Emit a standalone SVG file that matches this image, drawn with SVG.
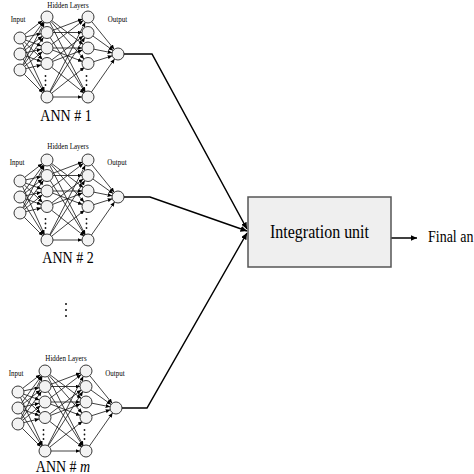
<svg xmlns="http://www.w3.org/2000/svg" xmlns:xlink="http://www.w3.org/1999/xlink" width="474" height="474" viewBox="0 0 474 474">
<style>
.e{stroke:#111;stroke-width:0.8;fill:none;marker-end:url(#ah)}
.n{fill:#f3f3f3;stroke:#222;stroke-width:0.9}
.d{fill:#111}
.c{stroke:#000;stroke-width:1.5;fill:none;marker-end:url(#ab)}
text{font-family:"Liberation Serif","Times New Roman",serif;fill:#000}
.s{font-size:7px;text-anchor:middle}
.l{font-size:14px;text-anchor:middle}
</style>
<defs>
<marker id="ah" markerUnits="userSpaceOnUse" markerWidth="5" markerHeight="4" refX="4.5" refY="2" orient="auto"><path d="M0,0 L4.5,2 L0,4 z" fill="#000"/></marker>
<marker id="ab" markerUnits="userSpaceOnUse" markerWidth="7" markerHeight="6" refX="6.5" refY="3" orient="auto"><path d="M0,0 L6.5,3 L0,6 z" fill="#000"/></marker>
<g id="net">
<path class="e" d="M24.7,17.3L42.3,3.7"/><path class="e" d="M25.9,19.8L41.1,16.7"/><path class="e" d="M25.6,23.1L41.4,28.9"/><path class="e" d="M24.4,25.1L42.6,42.4"/><path class="e" d="M22.5,26.5L44.5,74.5"/>
<path class="e" d="M23.5,32.2L43.5,4.8"/><path class="e" d="M24.7,33.3L42.3,19.2"/><path class="e" d="M25.9,35.7L41.1,32.3"/><path class="e" d="M25.7,39L41.3,44.5"/><path class="e" d="M23.2,42.1L43.8,74.9"/>
<path class="e" d="M22.7,47.7L44.3,5.3"/><path class="e" d="M23.5,48.1L43.5,20.4"/><path class="e" d="M24.7,49.2L42.4,34.8"/><path class="e" d="M25.8,51.6L41.2,47.9"/><path class="e" d="M24.2,57.2L42.8,75.8"/>
<path class="e" d="M51.8,3.6L83.2,27.4"/><path class="e" d="M51,4.5L84,42"/><path class="e" d="M49.7,5.3L85.3,74.7"/>
<path class="e" d="M52.6,13.4L82.4,2.1"/><path class="e" d="M53,15.5L82,15.5"/><path class="e" d="M50.2,20.6L84.8,74.9"/>
<path class="e" d="M51.8,27.4L83.2,3.6"/><path class="e" d="M53,31L82,31"/><path class="e" d="M52.6,33.1L82.4,44.4"/>
<path class="e" d="M51.8,42.9L83.2,19.1"/><path class="e" d="M52.6,44.4L82.4,33.1"/><path class="e" d="M51.7,50.3L84.4,76.2"/>
<path class="e" d="M49.7,74.7L85.3,5.3"/><path class="e" d="M50.2,74.9L84.8,20.6"/><path class="e" d="M51.7,76.2L84.4,50.3"/><path class="e" d="M53,80L82,80"/>
<path class="e" d="M91.8,4.7L114.2,32.3"/><path class="e" d="M92.9,19L113.1,33.5"/><path class="e" d="M93.9,32.2L112.1,35.8"/><path class="e" d="M93.7,44.7L112.3,38.8"/><path class="e" d="M91.4,75.1L114.6,41.9"/>
<circle class="n" cx="20" cy="21" r="6"/><circle class="n" cx="20" cy="37" r="6"/><circle class="n" cx="20" cy="53" r="6"/>
<circle class="n" cx="47" cy="0" r="6"/><circle class="n" cx="47" cy="15.5" r="6"/><circle class="n" cx="47" cy="31" r="6"/><circle class="n" cx="47" cy="46.5" r="6"/><circle class="n" cx="47" cy="80" r="6"/>
<circle class="n" cx="88" cy="0" r="6"/><circle class="n" cx="88" cy="15.5" r="6"/><circle class="n" cx="88" cy="31" r="6"/><circle class="n" cx="88" cy="46.5" r="6"/><circle class="n" cx="88" cy="80" r="6"/>
<circle class="n" cx="118" cy="37" r="6"/>
<circle class="d" cx="45.5" cy="59" r="0.9"/><circle class="d" cx="45.5" cy="63.5" r="0.9"/><circle class="d" cx="45.5" cy="68" r="0.9"/>
<circle class="d" cx="86.5" cy="59" r="0.9"/><circle class="d" cx="86.5" cy="63.5" r="0.9"/><circle class="d" cx="86.5" cy="68" r="0.9"/>
</g>
</defs>

<g id="connectors">
<path class="c" d="M124,54H152L247,229"/>
<path class="c" d="M124,197H150L247,231"/>
<path class="c" d="M122,408H147L247,233"/>
<path class="c" d="M391,238H417"/>
</g>

<g id="ann1">
<use xlink:href="#net" transform="translate(0,17)"/>
<text class="s" transform="translate(68,7.5) scale(1,1.2)">Hidden Layers</text>
<text class="s" transform="translate(18,22) scale(1,1.2)">Input</text>
<text class="s" transform="translate(117.5,22) scale(1,1.2)">Output</text>
<text class="l" transform="translate(66,121) scale(1,1.2)">ANN # 1</text>
</g>

<g id="ann2">
<use xlink:href="#net" transform="translate(0,160)"/>
<text class="s" transform="translate(68,148.5) scale(1,1.2)">Hidden Layers</text>
<text class="s" transform="translate(17,164.5) scale(1,1.2)">Input</text>
<text class="s" transform="translate(117,164.5) scale(1,1.2)">Output</text>
<text class="l" transform="translate(68,263) scale(1,1.2)">ANN # 2</text>
</g>

<g id="ellipsis">
<circle class="d" cx="66" cy="304" r="1"/><circle class="d" cx="66" cy="310" r="1"/><circle class="d" cx="66" cy="316" r="1"/>
</g>

<g id="annm">
<use xlink:href="#net" transform="translate(-2,371)"/>
<text class="s" transform="translate(66,360.5) scale(1,1.2)">Hidden Layers</text>
<text class="s" transform="translate(16,375.5) scale(1,1.2)">Input</text>
<text class="s" transform="translate(115,375.5) scale(1,1.2)">Output</text>
<text class="l" transform="translate(63,472) scale(1,1.2)">ANN # <tspan font-style="italic">m</tspan></text>
</g>

<g id="integration">
<rect x="248" y="197" width="143" height="70" fill="#efefef" stroke="#555" stroke-width="1.5"/>
<text transform="translate(319.5,238) scale(1,1.2)" style="font-size:16px;text-anchor:middle">Integration unit</text>
</g>

<g id="final">
<text transform="translate(428,242) scale(1,1.2)" style="font-size:14px">Final an</text>
</g>
</svg>
